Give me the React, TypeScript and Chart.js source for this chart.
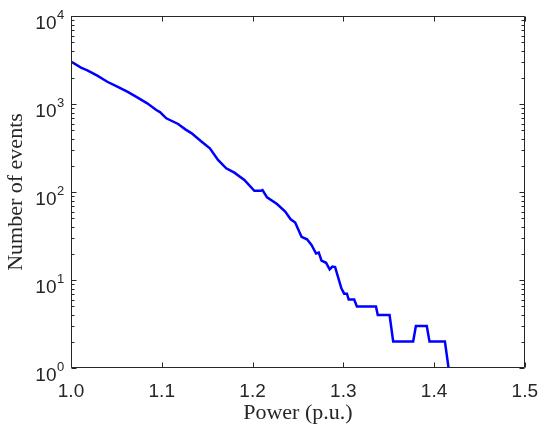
import React, { useEffect, useRef } from "react";
import { Chart, registerables } from "chart.js";

Chart.register(...registerables);

// ---- data ----
const powerPU = [
  1.0, 1.011, 1.018, 1.029, 1.04, 1.051, 1.062, 1.073, 1.084, 1.094, 1.098, 1.105,
  1.118, 1.126, 1.133, 1.144, 1.153, 1.162, 1.171, 1.18, 1.191, 1.202, 1.209, 1.211,
  1.216, 1.227, 1.236, 1.242, 1.247, 1.254, 1.26, 1.265, 1.27, 1.273, 1.276, 1.281,
  1.285, 1.288, 1.291, 1.298, 1.301, 1.304, 1.306, 1.312, 1.315, 1.336, 1.338, 1.351,
  1.355, 1.377, 1.38, 1.392, 1.395, 1.412, 1.416,
];
const eventCounts = [
  3030, 2590, 2415, 2100, 1790, 1573, 1380, 1190, 1018, 855, 810, 688,
  593, 515, 464, 373, 314, 231, 186, 166, 137, 103, 103, 105,
  87, 73, 60, 49, 45, 31, 29, 25, 20, 20.5, 16.6, 15.7,
  13.2, 14.2, 14, 8, 7, 7, 6, 6, 5, 5, 4, 4,
  2, 2, 3, 3, 2, 2, 1,
];
const xTickValues = [1.0, 1.1, 1.2, 1.3, 1.4, 1.5];
const yDecadeExponents = [0, 1, 2, 3, 4];
const yMinorMultipliers = [2, 3, 4, 5, 6, 7, 8, 9];
const xAxisTitle = "Power (p.u.)";
const yAxisTitle = "Number of events";

const AXIS_COLOR = "#262626";
const LINE_COLOR = "#0000ff";
const SANS = '"Liberation Sans", Arial, sans-serif';
const SERIF = '"Liberation Serif", "Times New Roman", serif';

const matlabAxes = {
  id: "matlabAxes",
  afterDraw(chart: any) {
    const { ctx, chartArea: a, scales } = chart;
    const xs = scales.x;
    const ys = scales.y;
    const L = Math.round(a.left) + 0.5;
    const R = Math.round(a.right) - 0.5;
    const T = Math.round(a.top) + 0.5;
    const B = Math.round(a.bottom) - 0.5;
    ctx.save();
    ctx.strokeStyle = AXIS_COLOR;
    ctx.lineWidth = 1;
    ctx.beginPath();
    ctx.rect(L, T, R - L, B - T);
    // x major ticks (bottom and top, inward)
    const major = 5;
    const minor = 3;
    xTickValues.forEach((v) => {
      const px = Math.round(xs.getPixelForValue(v)) + 0.5;
      ctx.moveTo(px, B);
      ctx.lineTo(px, B - major);
      ctx.moveTo(px, T);
      ctx.lineTo(px, T + major);
    });
    // y major + minor ticks (left and right, inward)
    yDecadeExponents.forEach((e) => {
      const py = Math.round(ys.getPixelForValue(Math.pow(10, e))) + 0.5;
      ctx.moveTo(L, py);
      ctx.lineTo(L + major, py);
      ctx.moveTo(R, py);
      ctx.lineTo(R - major, py);
      if (e < 4) {
        yMinorMultipliers.forEach((m) => {
          const pm = Math.round(ys.getPixelForValue(m * Math.pow(10, e))) + 0.5;
          ctx.moveTo(L, pm);
          ctx.lineTo(L + minor, pm);
          ctx.moveTo(R, pm);
          ctx.lineTo(R - minor, pm);
        });
      }
    });
    ctx.stroke();

    // y tick labels 10^k
    ctx.fillStyle = AXIS_COLOR;
    ctx.textBaseline = "alphabetic";
    yDecadeExponents.forEach((e) => {
      const py = ys.getPixelForValue(Math.pow(10, e));
      ctx.font = `19px ${SANS}`;
      ctx.textAlign = "right";
      ctx.fillText("10", a.left - 14.5, py + 12.5);
      ctx.font = `13px ${SANS}`;
      ctx.textAlign = "left";
      ctx.fillText(String(e), a.left - 14, py + 3);
    });

    // axis titles
    ctx.font = `22px ${SERIF}`;
    ctx.textAlign = "center";
    ctx.fillText(xAxisTitle, (a.left + a.right) / 2, 419);
    ctx.save();
    ctx.translate(22, (a.top + a.bottom) / 2);
    ctx.rotate(-Math.PI / 2);
    ctx.fillText(yAxisTitle, 0, 0);
    ctx.restore();
    ctx.restore();
  },
};

export default function App() {
  const canvasRef = useRef<HTMLCanvasElement | null>(null);

  useEffect(() => {
    document.body.style.margin = "0";
    const canvas = canvasRef.current;
    if (!canvas) return;
    const chart = new Chart(canvas, {
      type: "line",
      data: {
        datasets: [
          {
            label: "events",
            data: powerPU.map((p, i) => ({ x: p, y: eventCounts[i] })),
            borderColor: LINE_COLOR,
            backgroundColor: LINE_COLOR,
            borderWidth: 2.5,
            pointRadius: 0,
            tension: 0,
            fill: false,
          },
        ],
      },
      options: {
        animation: false,
        responsive: false,
        devicePixelRatio: 1,
        layout: { padding: { top: 16, right: 19, left: 0, bottom: 0 } },
        plugins: {
          legend: { display: false },
          tooltip: { enabled: false },
          title: { display: false },
        },
        scales: {
          x: {
            type: "linear",
            min: 1.0,
            max: 1.5,
            grid: { display: false, drawTicks: false },
            border: { display: false },
            ticks: {
              stepSize: 0.1,
              autoSkip: false,
              maxRotation: 0,
              padding: 12,
              color: AXIS_COLOR,
              font: { family: SANS, size: 19 },
              callback: (v: any) => Number(v).toFixed(1),
            },
            afterFit: (s: any) => {
              s.height = 66;
            },
          },
          y: {
            type: "logarithmic",
            min: 1,
            max: 10000,
            grid: { display: false, drawTicks: false },
            border: { display: false },
            ticks: { display: false },
            afterFit: (s: any) => {
              s.width = 71;
            },
          },
        },
      },
      plugins: [matlabAxes],
    });
    return () => chart.destroy();
  }, []);

  return (
    <div style={{ position: "absolute", left: 0, top: 0, width: 550, height: 434, background: "#fff" }}>
      <canvas ref={canvasRef} width={550} height={434} />
    </div>
  );
}
